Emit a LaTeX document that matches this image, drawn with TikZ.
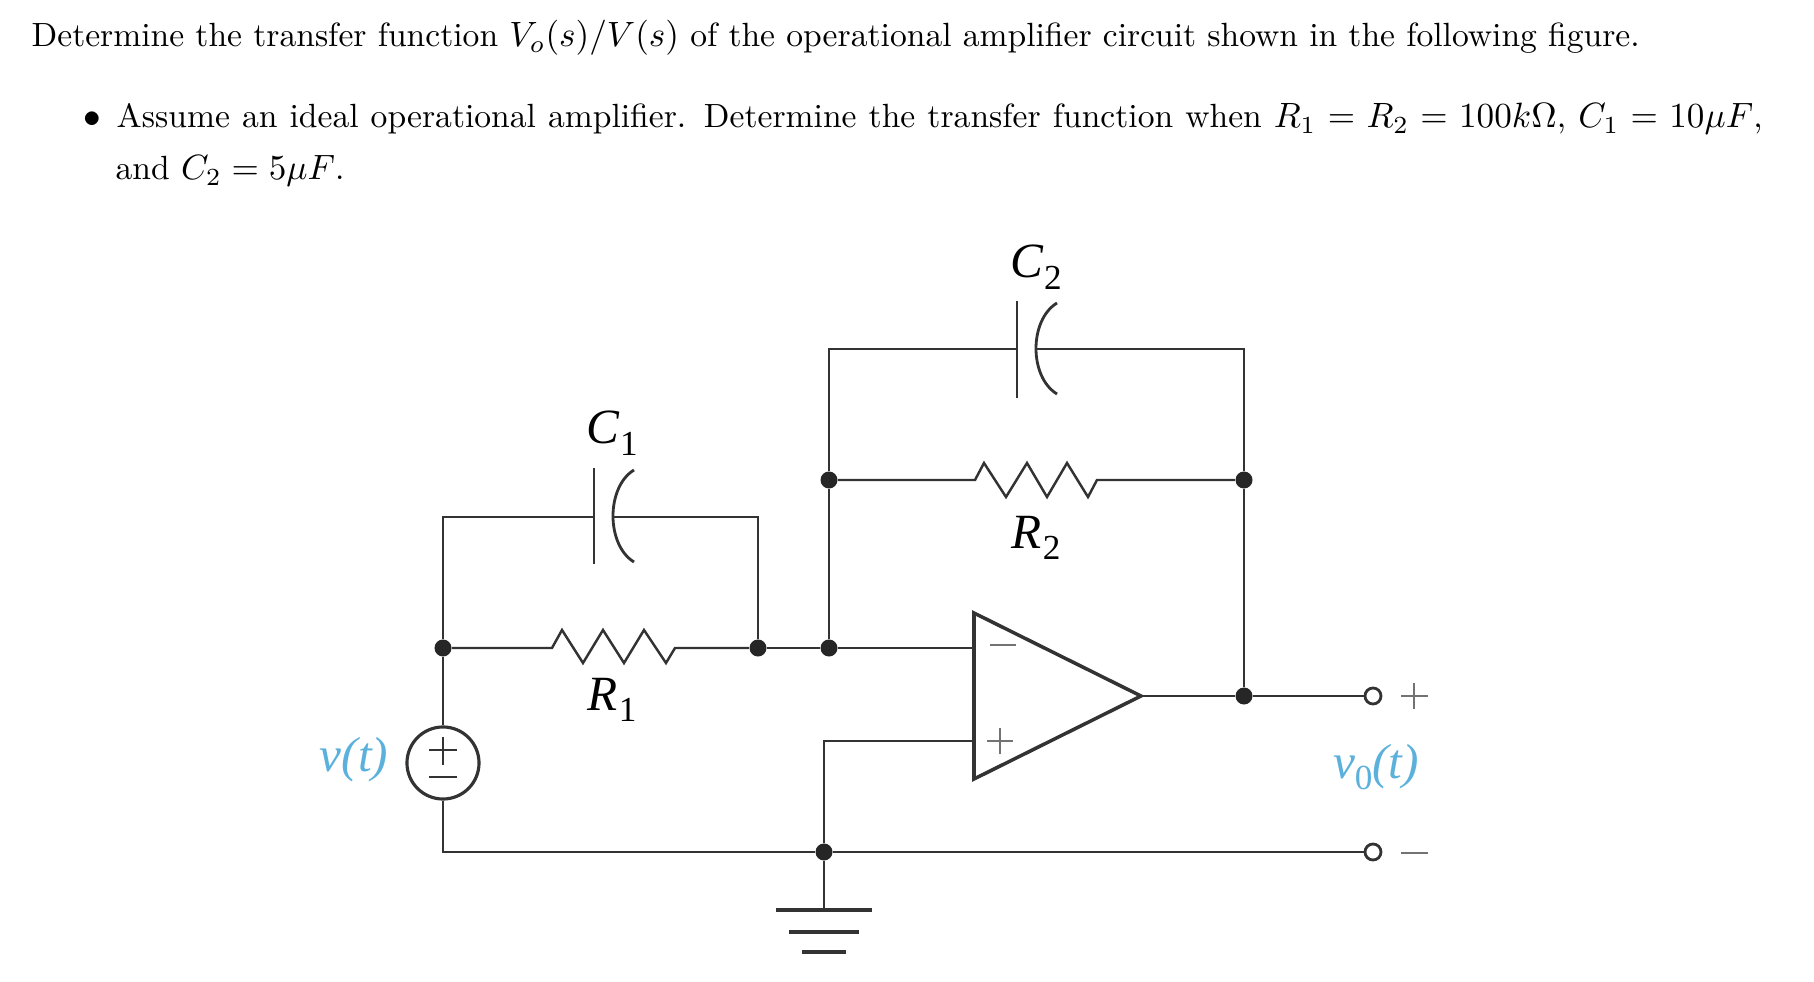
\documentclass[tikz,border=0pt]{standalone}
\usepackage{amssymb,amsmath}
\usepackage{fontspec}
\usepackage{tikz}
\newfontfamily\partfont{Liberation Serif}
\newcommand{\circuitlabel}[2]{{\partfont\itshape #1}\kern0.3pt\raisebox{-3.3pt}{\partfont\fontsize{10}{10}\selectfont #2}}
\definecolor{labelblue}{HTML}{5BB0DC}
\definecolor{wiregray}{HTML}{333333}

\begin{document}
\begin{tikzpicture}[x=0.01cm,y=-0.01cm,
    vertex/.style={circle,fill=black!85,minimum size=0.17cm,inner sep=0pt},
    terminal/.style={circle,draw=wiregray,fill=white,line width=0.8pt,minimum size=0.16cm,inner sep=0pt},
    wire/.style={draw=wiregray,line width=0.7pt},
    thinsign/.style={draw=black!55,line width=0.5pt},
    plate/.style={draw=wiregray,line width=0.8pt},
    part/.style={inner sep=0pt,font=\fontsize{14}{16}\selectfont},
    sig/.style={part,text=labelblue},
    textline/.style={anchor=base west,inner sep=0pt,font=\fontsize{9.55}{12}\selectfont}]

\useasboundingbox (0,0) rectangle (1814,982);

% Question text
\node[textline] (line1) at (31,47) {Determine the transfer function $V_o(s)/V(s)$ of the operational amplifier circuit shown in the following figure.};
\node[textline] (dot) at (83,128) {$\bullet$};
\node[textline] (line2) at (116,128) {\makebox[16.45cm][s]{Assume an ideal operational amplifier. Determine the transfer function when $R_1=R_2=100k\Omega$, $C_1=10\mu F$,}};
\node[textline] (line3) at (115,180) {and $C_2=5\mu F$.};

% Junctions
\node[vertex] (n1) at (443,648) {};
\node[vertex] (n2) at (758,648) {};
\node[vertex] (n3) at (829,648) {};
\node[vertex] (n4) at (829,480) {};
\node[vertex] (n5) at (1244,480) {};
\node[vertex] (n6) at (1244,696) {};
\node[vertex] (n7) at (824,852) {};
\node[terminal] (top) at (1373,696) {};
\node[terminal] (bot) at (1373,852) {};

% Corners and part ends
\coordinate (c1l) at (443,517);
\coordinate (c1r) at (758,517);
\coordinate (c2l) at (829,349);
\coordinate (c2r) at (1244,349);
\coordinate (p1) at (594,517);
\coordinate (a1) at (612,517);
\coordinate (p2) at (1017,349);
\coordinate (a2) at (1035,349);
\coordinate (r1a) at (552,648);
\coordinate (r1b) at (675,648);
\coordinate (r2a) at (975,480);
\coordinate (r2b) at (1097,480);
\coordinate (inm) at (974,648);
\coordinate (inp) at (974,741);
\coordinate (inpc) at (824,741);
\coordinate (out) at (1141,696);
\coordinate (srcb) at (443,852);
\coordinate (g1) at (824,910);

% Source
\node[circle,draw=wiregray,line width=0.9pt,fill=white,minimum size=0.72cm,inner sep=0pt] (src) at (443,763) {};
\node[sig] (vt) at (354,760) {\partfont\itshape v(t)};
\draw[plate] (429,750) -- (457,750);
\draw[plate] (443,737) -- (443,765);
\draw[plate] (429,777) -- (457,777);

% C1 and R1
\draw[wire] (n1) -- (c1l) -- (p1);
\draw[wire] (a1) -- (c1r) -- (n2);
\draw[plate] (594,468) -- (594,564);
\draw[plate] (634,470) .. controls (606,487) and (606,545) .. (634,562);
\draw[wire] (n1) -- (r1a) -- ++(10,-18) -- ++(21,33) -- ++(20,-33) -- ++(21,33) -- ++(20,-33) -- ++(22,33) -- ++(9,-15) -- (r1b) -- (n2);
\node[part] (C1) at (612,433) {\circuitlabel{C}{1}};
\node[part] (R1) at (612,700) {\circuitlabel{R}{1}};

% C2 and R2
\draw[wire] (n4) -- (c2l) -- (p2);
\draw[wire] (a2) -- (c2r) -- (n5);
\draw[plate] (1017,301) -- (1017,398);
\draw[plate] (1057,303) .. controls (1029,320) and (1029,377) .. (1057,394);
\draw[wire] (n4) -- (r2a) -- ++(9,-17) -- ++(22,34) -- ++(21,-34) -- ++(20,34) -- ++(20,-34) -- ++(21,34) -- ++(9,-17) -- (r2b) -- (n5);
\node[part] (C2) at (1036,267) {\circuitlabel{C}{2}};
\node[part] (R2) at (1036,538) {\circuitlabel{R}{2}};

% Op amp
\draw[plate,line width=1pt,fill=white,line join=miter] (974,613) -- (974,779) -- (1141,696) -- cycle;
\draw[thinsign] (990,645) -- (1016,645);
\draw[thinsign] (987,741) -- (1013,741);
\draw[thinsign] (1000,728) -- (1000,754);

% Wires round the op amp
\draw[wire] (n2) -- (n3);
\draw[wire] (n3) -- (n4);
\draw[wire] (n3) -- (inm);
\draw[wire] (inp) -- (inpc) -- (n7);
\draw[wire] (out) -- (n6);
\draw[wire] (n6) -- (top);
\draw[wire] (n5) -- (n6);
\draw[wire] (n1) -- (src);
\draw[wire] (src) -- (srcb) -- (n7);
\draw[wire] (n7) -- (bot);
\draw[wire] (n7) -- (g1);

% Ground
\draw[plate,line width=1pt] (776,910) -- (872,910);
\draw[plate,line width=1pt] (789,932) -- (859,932);
\draw[plate,line width=1pt] (802,952) -- (846,952);

% Output labels
\draw[thinsign] (1401,696) -- (1428,696);
\draw[thinsign] (1414,683) -- (1414,709);
\draw[thinsign] (1401,853) -- (1428,853);
\node[sig] (vo) at (1376,767) {{\partfont\itshape v}\raisebox{-3.3pt}{\partfont\fontsize{10}{10}\selectfont 0}{\partfont\itshape (t)}};

\end{tikzpicture}
\end{document}
